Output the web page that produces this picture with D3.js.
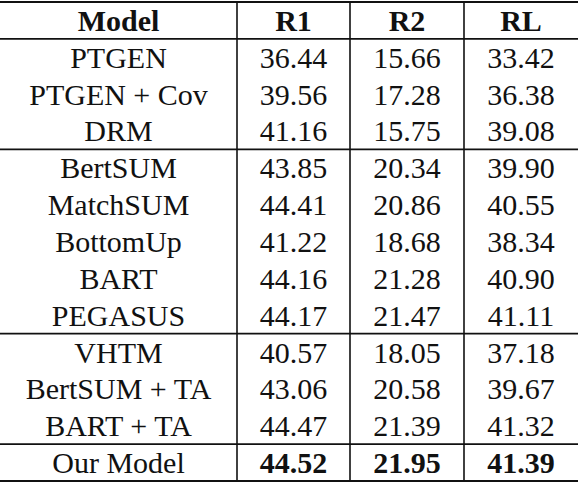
<!DOCTYPE html>
<html>
<head>
<meta charset="utf-8">
<script src="https://cdn.jsdelivr.net/npm/d3@7"></script>
<style>
  html, body { margin: 0; padding: 0; background: #fff; }
</style>
</head>
<body>
<div class="root"></div>
<script>
var headers = ['Model', 'R1', 'R2', 'RL'];
var models = ['PTGEN', 'PTGEN + Cov', 'DRM', 'BertSUM', 'MatchSUM', 'BottomUp',
              'BART', 'PEGASUS', 'VHTM', 'BertSUM + TA', 'BART + TA', 'Our Model'];
var r1 = ['36.44', '39.56', '41.16', '43.85', '44.41', '41.22', '44.16', '44.17', '40.57', '43.06', '44.47', '44.52'];
var r2 = ['15.66', '17.28', '15.75', '20.34', '20.86', '18.68', '21.28', '21.47', '18.05', '20.58', '21.39', '21.95'];
var rl = ['33.42', '36.38', '39.08', '39.90', '40.55', '38.34', '40.90', '41.11', '37.18', '39.67', '41.32', '41.39'];
// rows after which a group rule is drawn (data row index)
var groupEnds = [2, 7, 10];
var boldRow = 11;

var width = 578, height = 485;
var colEdges = [0, 237, 350, 464, 578];
var serif = '"Liberation Serif", "Times New Roman", Times, Tinos, "Nimbus Roman", "Nimbus Roman No9 L", FreeSerif, "Noto Serif", "DejaVu Serif", serif';

var svg = d3.select('.root')
            .append('svg')
            .attr('width', width)
            .attr('height', height);

// row 0 = header, rows 1..12 = data
var y = d3.scaleLinear()
          .domain([0, models.length + 1])
          .range([2, 481]);

var cols = [models, r1, r2, rl];

// header
svg.selectAll('text.head')
   .data(headers)
   .enter().append('text')
   .attr('class', 'head')
   .attr('x', (d, i) => (colEdges[i] + colEdges[i + 1]) / 2)
   .attr('y', y(0.5))
   .attr('dy', '0.35em')
   .attr('text-anchor', 'middle')
   .style('font-family', serif)
   .style('fill', '#111')
   .style('font-size', '30px')
   .style('font-weight', 'bold')
   .text(d => d);

// body cells
cols.forEach(function (col, ci) {
  svg.selectAll('text.c' + ci)
     .data(col)
     .enter().append('text')
     .attr('class', 'c' + ci)
     .attr('x', (colEdges[ci] + colEdges[ci + 1]) / 2)
     .attr('y', (d, i) => y(i + 1.5))
     .attr('dy', '0.35em')
     .attr('text-anchor', 'middle')
     .style('font-family', serif)
     .style('fill', '#111')
     .style('font-size', '30px')
     .style('font-weight', (d, i) => (i === boldRow && ci > 0) ? 'bold' : 'normal')
     .text(d => d);
});

// horizontal rules
var hlines = [0, 1].concat(groupEnds.map(d => d + 2), [models.length + 1]);
svg.selectAll('line.h')
   .data(hlines)
   .enter().append('line')
   .attr('class', 'h')
   .attr('x1', 0)
   .attr('x2', width)
   .attr('y1', d => y(d))
   .attr('y2', d => y(d))
   .style('stroke', '#111')
   .style('stroke-width', (d, i) => (i === 0 || i === hlines.length - 1) ? 2 : 1.6);

// vertical rules
svg.selectAll('line.v')
   .data(colEdges.slice(1, -1))
   .enter().append('line')
   .attr('class', 'v')
   .attr('x1', d => d)
   .attr('x2', d => d)
   .attr('y1', y(0))
   .attr('y2', y(models.length + 1))
   .style('stroke', '#111')
   .style('stroke-width', 1.6);
</script>
</body>
</html>
